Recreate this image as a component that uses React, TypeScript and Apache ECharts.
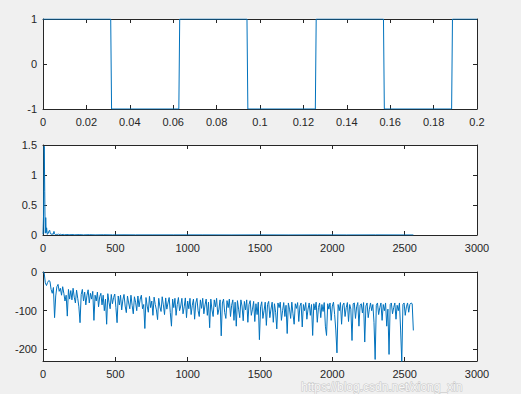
import React, { useEffect, useRef } from "react";
import * as echarts from "echarts";

// Subplot 1: square wave vertices (time, value)
const sqT = [0, 0.0312, 0.0316, 0.0626, 0.063, 0.094, 0.0944, 0.1255, 0.1259, 0.1569, 0.1573, 0.1883, 0.1887, 0.2];
const sqV = [1, 1, -1, -1, 1, 1, -1, -1, 1, 1, -1, -1, 1, 1];

// Subplot 2: magnitude spectrum (bin, magnitude)
const magX = [0, 4, 8, 10, 12, 14, 16, 19, 22, 25, 30, 36, 42, 46, 50, 56, 62, 70, 76, 80, 86, 94, 100, 106, 112, 120, 130, 140, 150, 165, 180, 200, 220, 250, 280, 320, 360, 420, 480, 560, 640, 760, 900, 1100, 1300, 1500, 1700, 1900, 2100, 2300, 2500, 2560];
const magY = [0.01, 0.35, 1.48, 1.2, 0.73, 0.25, 0.03, 0.29, 0.04, 0.12, 0.01, 0.03, 0.07, 0.08, 0.03, 0.01, 0.02, 0.01, 0.06, 0.02, 0.005, 0.01, 0.004, 0.02, 0.005, 0.012, 0.004, 0.01, 0.003, 0.008, 0.003, 0.007, 0.003, 0.006, 0.002, 0.005, 0.002, 0.004, 0.002, 0.003, 0.002, 0.002, 0.002, 0.002, 0.001, 0.002, 0.001, 0.002, 0.001, 0.002, 0.001, 0.001];

// Subplot 3: spectrum in dB, one value every dbStep bins
const dbStep = 8;
const dbVals = [
  0, -2, -28, -35, -27, -22, -24, -45, -55, -40, -118, -62, -38, -32, -50, -42, -60, -38, -55, -75,
  -60, -114, -45, -70, -48, -72, -42, -65, -80, -47, -68, -90, -131, -58, -45, -75, -52, -85, -60, -46,
  -80, -55, -70, -50, -125, -60, -75, -52, -90, -64, -55, -85, -60, -100, -70, -135, -56, -78, -95, -58,
  -82, -66, -57, -92, -131, -62, -85, -60, -98, -72, -58, -88, -105, -62, -80, -95, -60, -86, -108, -64,
  -78, -100, -62, -90, -70, -60, -95, -84, -146, -66, -88, -104, -63, -92, -75, -112, -65, -84, -98, -123,
  -68, -90, -102, -64, -85, -110, -67, -96, -80, -66, -105, -140, -70, -92, -68, -112, -84, -66, -100, -88,
  -68, -108, -90, -67, -118, -75, -95, -68, -110, -86, -70, -122, -80, -68, -100, -115, -72, -94, -68, -108,
  -85, -70, -112, -78, -144, -70, -98, -115, -72, -90, -68, -110, -96, -72, -165, -80, -70, -105, -120, -74,
  -92, -70, -115, -86, -72, -125, -78, -140, -74, -96, -118, -72, -88, -126, -76, -98, -72, -130, -84, -74,
  -112, -96, -76, -128, -82, -110, -78, -175, -90, -77, -120, -100, -78, -138, -84, -76, -118, -96, -78, -130,
  -82, -104, -147, -80, -92, -78, -125, -100, -79, -115, -86, -159, -80, -96, -120, -78, -108, -135, -82, -94,
  -79, -128, -88, -80, -142, -84, -100, -79, -122, -96, -80, -112, -84, -164, -82, -98, -78, -130, -92, -80,
  -118, -84, -102, -79, -140, -164, -82, -96, -80, -125, -88, -78, -110, -150, -209, -84, -100, -79, -135, -86,
  -80, -115, -92, -79, -128, -84, -96, -177, -82, -80, -120, -90, -79, -140, -86, -82, -106, -79, -181, -88,
  -80, -118, -96, -80, -100, -84, -130, -226, -86, -80, -110, -92, -80, -125, -84, -100, -80, -140, -96, -213,
  -84, -80, -108, -92, -80, -122, -86, -100, -80, -150, -232, -84, -80, -112, -90, -80, -104, -84, -80, -82,
  -151,
];

const x1Ticks = { min: 0, max: 0.2, interval: 0.02 };
const y1Ticks = { min: -1, max: 1, interval: 1 };
const x2Ticks = { min: 0, max: 3000, interval: 500 };
const y2Ticks = { min: 0, max: 1.5, interval: 0.5 };
const y3Labels = [0, -100, -200];
const y3Range = { min: -230, max: 0 };

const INK = "#262626";
const BLUE = "#0072BD";
const FONT = "Liberation Sans";

const grids = [
  { left: 43, width: 434, top: 19, height: 90 },
  { left: 43, width: 434, top: 145, height: 90 },
  { left: 43, width: 434, top: 272, height: 89 },
];

const plainFmt = (v: number) => String(parseFloat(Number(v).toFixed(4)));

function xPair(gi: number, cfg: any) {
  const common = {
    type: "value",
    gridIndex: gi,
    ...cfg,
    splitLine: { show: false },
    axisLine: { show: true, onZero: false, lineStyle: { color: INK, width: 1 } },
    axisTick: { show: true, inside: true, length: 4, lineStyle: { color: INK } },
  };
  return [
    {
      ...common,
      position: "bottom",
      axisLabel: {
        show: true,
        margin: 7,
        color: INK,
        fontSize: 11,
        fontFamily: FONT,
        formatter: plainFmt,
        showMinLabel: true,
        showMaxLabel: true,
      },
    },
    { ...common, position: "top", axisLabel: { show: false } },
  ];
}

function yPair(gi: number, cfg: any, extraLabel: any = {}, extraTick: any = {}) {
  const common = {
    type: "value",
    gridIndex: gi,
    ...cfg,
    splitLine: { show: false },
    axisLine: { show: true, onZero: false, lineStyle: { color: INK, width: 1 } },
    axisTick: { show: true, inside: true, length: 4, lineStyle: { color: INK }, ...extraTick },
  };
  return [
    {
      ...common,
      position: "left",
      axisLabel: {
        show: true,
        margin: 6,
        color: INK,
        fontSize: 11,
        fontFamily: FONT,
        formatter: plainFmt,
        showMinLabel: true,
        showMaxLabel: true,
        ...extraLabel,
      },
    },
    { ...common, position: "right", axisLabel: { show: false } },
  ];
}

export default function App() {
  const ref = useRef<HTMLDivElement>(null);

  useEffect(() => {
    if (!ref.current) return;
    const chart = echarts.init(ref.current, null, { renderer: "svg" });

    const sqData = sqT.map((t, i) => [t, sqV[i]]);
    const magData = magX.map((x, i) => [x, magY[i]]);
    const dbData = dbVals.map((v, i) => [i * dbStep, v]);

    const option: any = {
      animation: false,
      backgroundColor: "#f0f0f0",
      grid: grids.map((g) => ({ ...g, show: true, backgroundColor: "#ffffff", borderWidth: 0, containLabel: false })),
      xAxis: [...xPair(0, x1Ticks), ...xPair(1, x2Ticks), ...xPair(2, x2Ticks)],
      yAxis: [
        ...yPair(0, y1Ticks),
        ...yPair(1, y2Ticks),
        ...yPair(2, y3Range, { customValues: y3Labels }, { customValues: y3Labels }),
      ],
      series: [
        {
          type: "line",
          xAxisIndex: 0,
          yAxisIndex: 0,
          data: sqData,
          showSymbol: false,
          symbol: "none",
          lineStyle: { color: BLUE, width: 1 },
          z: 5,
        },
        {
          type: "line",
          xAxisIndex: 2,
          yAxisIndex: 2,
          data: magData,
          showSymbol: false,
          symbol: "none",
          lineStyle: { color: BLUE, width: 1 },
          z: 5,
        },
        {
          type: "line",
          xAxisIndex: 4,
          yAxisIndex: 4,
          data: dbData,
          showSymbol: false,
          symbol: "none",
          lineStyle: { color: BLUE, width: 1 },
          z: 5,
        },
      ],
      graphic: [
        {
          type: "text",
          x: 301,
          y: 387,
          silent: true,
          style: {
            text: "https://blog.csdn.net/xiong_xin",
            font: "12px Liberation Sans",
            fill: "#f8f8f8",
            stroke: "#c4c4c4",
            lineWidth: 1,
            verticalAlign: "middle",
            align: "left",
          },
          z: 100,
        },
      ],
    };

    chart.setOption(option);
    return () => chart.dispose();
  }, []);

  return (
    <div
      ref={ref}
      style={{ position: "fixed", left: 0, top: 0, width: 521, height: 394, background: "#f0f0f0" }}
    />
  );
}
